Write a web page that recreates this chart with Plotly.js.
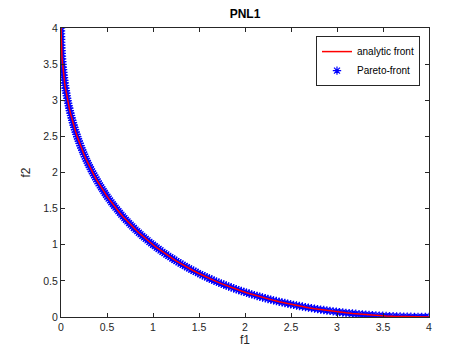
<!DOCTYPE html>
<html><head><meta charset="utf-8">
<script src="https://cdn.plot.ly/plotly-3.0.1.min.js"></script>
<style>html,body{margin:0;padding:0;background:#fff;}#chart{width:474px;height:355px;}</style>
</head><body><div id="chart"></div>
<script>
const f1 = [0,0.0004,0.0016,0.0036,0.0064,0.01,0.0144,0.0196,0.0256,0.0324,0.04,0.0484,0.0576,0.0676,0.0784,0.09,0.1024,0.1156,0.1296,0.1444,0.16,0.1764,0.1936,0.2116,0.2304,0.25,0.2704,0.2916,0.3136,0.3364,0.36,0.3844,0.4096,0.4356,0.4624,0.49,0.5184,0.5476,0.5776,0.6084,0.64,0.6724,0.7056,0.7396,0.7744,0.81,0.8464,0.8836,0.9216,0.9604,1,1.0404,1.0816,1.1236,1.1664,1.21,1.2544,1.2996,1.3456,1.3924,1.44,1.4884,1.5376,1.5876,1.6384,1.69,1.7424,1.7956,1.8496,1.9044,1.96,2.0164,2.0736,2.1316,2.1904,2.25,2.3104,2.3716,2.4336,2.4964,2.56,2.6244,2.6896,2.7556,2.8224,2.89,2.9584,3.0276,3.0976,3.1684,3.24,3.3124,3.3856,3.4596,3.5344,3.61,3.6864,3.7636,3.8416,3.9204,4];
const f2 = [4,3.9204,3.8416,3.7636,3.6864,3.61,3.5344,3.4596,3.3856,3.3124,3.24,3.1684,3.0976,3.0276,2.9584,2.89,2.8224,2.7556,2.6896,2.6244,2.56,2.4964,2.4336,2.3716,2.3104,2.25,2.1904,2.1316,2.0736,2.0164,1.96,1.9044,1.8496,1.7956,1.7424,1.69,1.6384,1.5876,1.5376,1.4884,1.44,1.3924,1.3456,1.2996,1.2544,1.21,1.1664,1.1236,1.0816,1.0404,1,0.9604,0.9216,0.8836,0.8464,0.81,0.7744,0.7396,0.7056,0.6724,0.64,0.6084,0.5776,0.5476,0.5184,0.49,0.4624,0.4356,0.4096,0.3844,0.36,0.3364,0.3136,0.2916,0.2704,0.25,0.2304,0.2116,0.1936,0.1764,0.16,0.1444,0.1296,0.1156,0.1024,0.09,0.0784,0.0676,0.0576,0.0484,0.04,0.0324,0.0256,0.0196,0.0144,0.01,0.0064,0.0036,0.0016,0.0004,0];
const f1Mid = [0.0001,0.0009,0.0025,0.0049,0.0081,0.0121,0.0169,0.0225,0.0289,0.0361,0.0441,0.0529,0.0625,0.0729,0.0841,0.0961,0.1089,0.1225,0.1369,0.1521,0.1681,0.1849,0.2025,0.2209,0.2401,0.2601,0.2809,0.3025,0.3249,0.3481,0.3721,0.3969,0.4225,0.4489,0.4761,0.5041,0.5329,0.5625,0.5929,0.6241,0.6561,0.6889,0.7225,0.7569,0.7921,0.8281,0.8649,0.9025,0.9409,0.9801,1.0201,1.0609,1.1025,1.1449,1.1881,1.2321,1.2769,1.3225,1.3689,1.4161,1.4641,1.5129,1.5625,1.6129,1.6641,1.7161,1.7689,1.8225,1.8769,1.9321,1.9881,2.0449,2.1025,2.1609,2.2201,2.2801,2.3409,2.4025,2.4649,2.5281,2.5921,2.6569,2.7225,2.7889,2.8561,2.9241,2.9929,3.0625,3.1329,3.2041,3.2761,3.3489,3.4225,3.4969,3.5721,3.6481,3.7249,3.8025,3.8809,3.9601];
const f2Mid = [3.9601,3.8809,3.8025,3.7249,3.6481,3.5721,3.4969,3.4225,3.3489,3.2761,3.2041,3.1329,3.0625,2.9929,2.9241,2.8561,2.7889,2.7225,2.6569,2.5921,2.5281,2.4649,2.4025,2.3409,2.2801,2.2201,2.1609,2.1025,2.0449,1.9881,1.9321,1.8769,1.8225,1.7689,1.7161,1.6641,1.6129,1.5625,1.5129,1.4641,1.4161,1.3689,1.3225,1.2769,1.2321,1.1881,1.1449,1.1025,1.0609,1.0201,0.9801,0.9409,0.9025,0.8649,0.8281,0.7921,0.7569,0.7225,0.6889,0.6561,0.6241,0.5929,0.5625,0.5329,0.5041,0.4761,0.4489,0.4225,0.3969,0.3721,0.3481,0.3249,0.3025,0.2809,0.2601,0.2401,0.2209,0.2025,0.1849,0.1681,0.1521,0.1369,0.1225,0.1089,0.0961,0.0841,0.0729,0.0625,0.0529,0.0441,0.0361,0.0289,0.0225,0.0169,0.0121,0.0081,0.0049,0.0025,0.0009,0.0001];
const tickVals = [0,0.5,1,1.5,2,2.5,3,3.5,4];
const tickText = ['0','0.5','1','1.5','2','2.5','3','3.5','4'];

const font = 'Liberation Sans, Arial, sans-serif';
const traces = [
  {x: f1.concat(f1Mid), y: f2.concat(f2Mid), type: 'scatter', mode: 'markers', name: 'Pareto-front', legendrank: 2,
   marker: {symbol: 'asterisk-open', size: 7, color: '#0000ff', line: {color: '#0000ff', width: 1.2}}},
  {x: f1, y: f2, type: 'scatter', mode: 'lines', name: 'analytic front', legendrank: 1,
   line: {color: '#ff0000', width: 1.5}}
];
const axisCommon = {
  range: [0, 4], tickvals: tickVals, ticktext: tickText, ticks: 'inside', ticklen: 4,
  tickcolor: '#262626', showline: true, linecolor: '#262626', linewidth: 1, mirror: 'ticks',
  showgrid: false, zeroline: false, tickfont: {family: font, size: 10.5, color: '#262626'}
};
const layout = {
  width: 474, height: 355, paper_bgcolor: '#fff', plot_bgcolor: '#fff',
  margin: {l: 61, r: 45, t: 28, b: 38},
  title: {text: '<b>PNL1</b>', x: 0.517, xanchor: 'center', y: 0.962, yanchor: 'middle',
          font: {family: font, size: 12, color: '#000'}},
  xaxis: Object.assign({}, axisCommon, {title: {text: 'f1', standoff: 4, font: {family: font, size: 12, color: '#262626'}}}),
  yaxis: Object.assign({}, axisCommon, {title: {text: 'f2', standoff: 10, font: {family: font, size: 12, color: '#262626'}}}),
  showlegend: true,
  legend: {x: 0.9755, xanchor: 'right', y: 0.972, yanchor: 'top', bgcolor: '#fff',
           bordercolor: '#262626', borderwidth: 1, font: {family: font, size: 10, color: '#000'},
           tracegroupgap: 0, itemwidth: 30}
};
Plotly.newPlot('chart', traces, layout, {displayModeBar: false, staticPlot: true});
</script></body></html>
